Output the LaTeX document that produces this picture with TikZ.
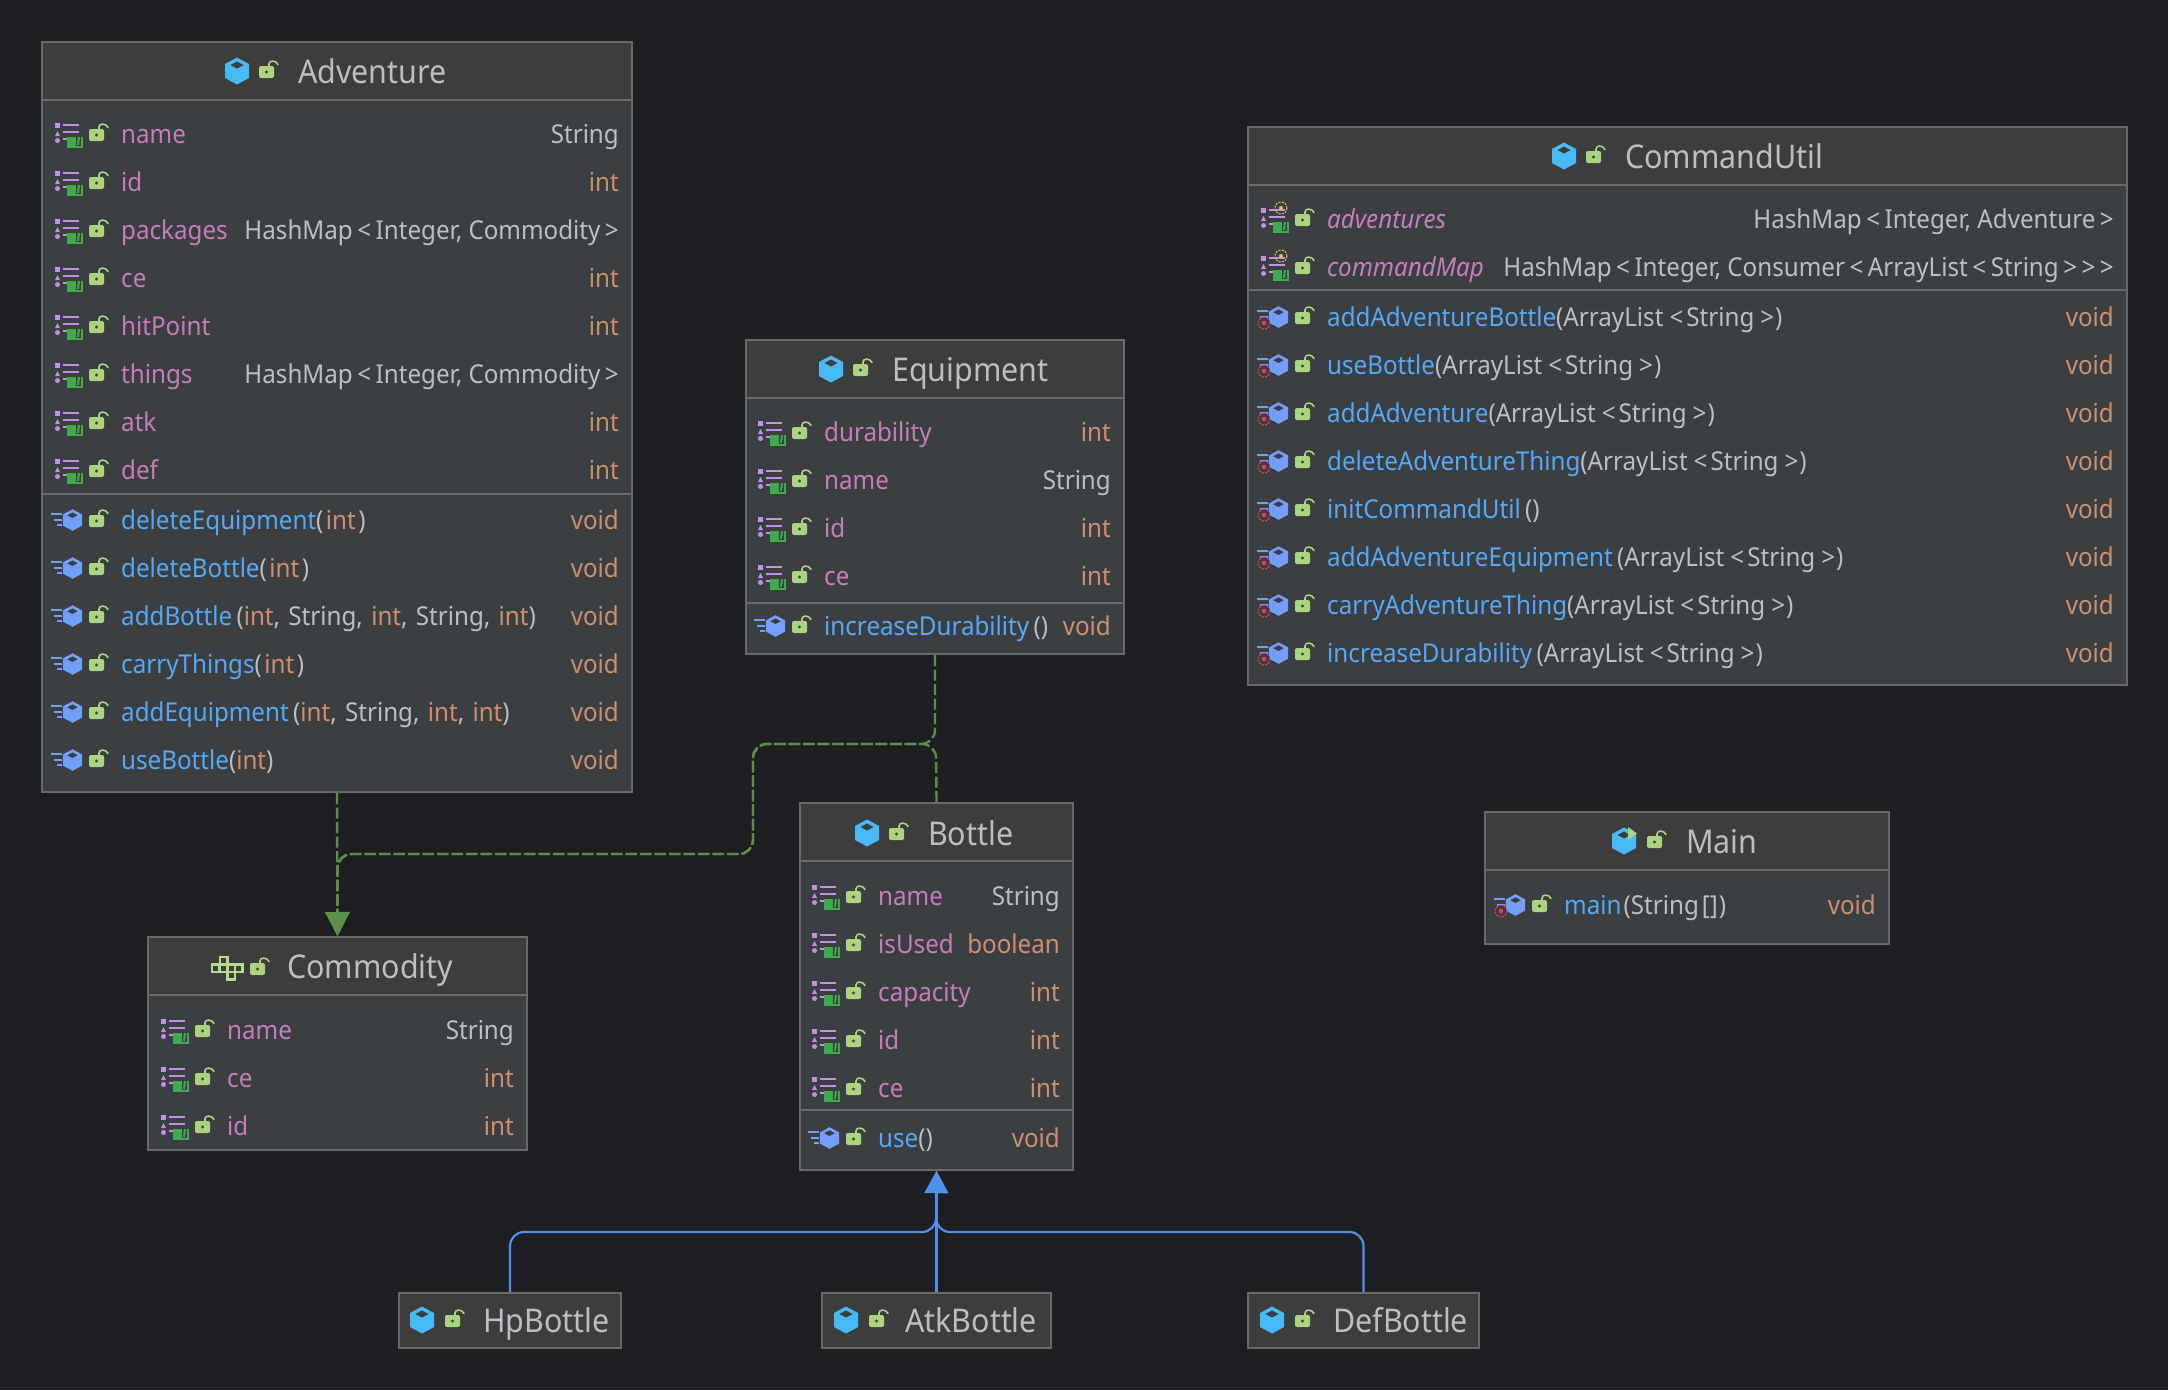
\documentclass[tikz,border=0pt]{standalone}
\usepackage{fontspec}
\setmainfont[FakeStretch=0.93]{Noto Sans}
\usetikzlibrary{arrows.meta}
\definecolor{bgc}{HTML}{1E1F22}
\definecolor{bodyc}{HTML}{3C3F41}
\definecolor{hdrc}{HTML}{3D3D3D}
\definecolor{edgec}{HTML}{686868}
\definecolor{pinkc}{HTML}{C77DBB}
\definecolor{bluec}{HTML}{56A8F5}
\definecolor{orangec}{HTML}{CF8E6D}
\definecolor{grayc}{HTML}{BCBEC4}
\definecolor{lockc}{HTML}{AAD47E}
\definecolor{cubec}{HTML}{45BAF7}
\definecolor{mcubec}{HTML}{719EFF}
\definecolor{purpc}{HTML}{C190E8}
\definecolor{bookc}{HTML}{3DAA4C}
\definecolor{staticc}{HTML}{F0B850}
\definecolor{redc}{HTML}{F0395C}
\definecolor{ifacec}{HTML}{B7DC8A}
\definecolor{depc}{HTML}{5A8F46}
\definecolor{inhc}{HTML}{4F90EA}
\newcommand\Nm[1]{\textcolor{pinkc}{#1}}
\newcommand\Mt[1]{\textcolor{bluec}{#1}}
\newcommand\Ty[1]{\textcolor{orangec}{#1}}
\newcommand\Gr[1]{\textcolor{grayc}{#1}}
\newcommand\Lt{\kern4.5pt<\kern4.5pt}
\newcommand\Gt{\kern4.5pt>}
\newcount\lblno
\newcommand\txtnode[3]{\global\advance\lblno by 1 \node[#1] (lbl\the\lblno) at #2 {#3};}
\tikzset{
  x=1pt,y=-1pt,
  rowtext/.style={inner sep=0pt,anchor=base west,font=\fontsize{26}{30}\selectfont},
  typetext/.style={inner sep=0pt,anchor=base east,font=\fontsize{26}{30}\selectfont},
  titletext/.style={inner sep=0pt,anchor=base west,text=grayc,font=\fontsize{32.7}{36}\selectfont},
  classbody/.style={draw=edgec,fill=bodyc,line width=2pt,inner sep=0pt,rectangle},
  sepline/.style={draw=edgec,line width=2.4pt},
  depline/.style={draw=depc,line width=2.4pt,dash pattern=on 11pt off 3.5pt,rounded corners=14pt,
     -{Triangle[length=24pt,width=24pt,fill=depc]}},
  inhline/.style={draw=inhc,line width=2.2pt,rounded corners=14pt,
     -{Triangle[length=22pt,width=23pt,fill=inhc]}}
}
% lock icon: left x, centre y
\newcommand\lockicon[2]{\begin{scope}[shift={(#1,#2)}]
  \draw[lockc,line width=1.6pt,line cap=round] (10,-5) -- (10,-7) .. controls (10,-11) and (17,-11) .. (19,-6.5);
  \fill[lockc,rounded corners=2pt] (0,-5) rectangle (15,7);
  \fill[bodyc] (7.5,1) circle[radius=1.7];
\end{scope}}
% class cube: centre x, centre y, colour, scale
\newcommand\cubeicon[4]{\begin{scope}[shift={(#1,#2)},scale=#4]
  \fill[#3] (0,-13.5) -- (12,-7) -- (12,7) -- (0,13.5) -- (-12,7) -- (-12,-7) -- cycle;
  \fill[hdrc] (0,-9.5) -- (6.5,-6) -- (0,-2.5) -- (-6.5,-6) -- cycle;
\end{scope}}
% field icon: origin = left edge, row centre
\newcommand\fieldicon[2]{\begin{scope}[shift={(#1,{#2-11})}]
  \fill[purpc] (0,0) rectangle (5,5);
  \fill[purpc] (8,1) rectangle (24,3);
  \fill[purpc] (8,8) rectangle (24,10);
  \fill[purpc] (8,15) rectangle (13,17);
  \fill[purpc] (2.5,8) -- (5,13) -- (0,13) -- cycle;
  \fill[purpc] (2.5,17.5) circle[radius=2.5];
  \fill[bookc] (12,14) rectangle (21,24.5);
  \draw[bookc,line width=1.2pt] (20,24) -- (27,24) -- (27,14);
  \draw[bookc,line width=2pt] (23,22) -- (24,14);
\end{scope}}
\newcommand\staticdot[2]{\begin{scope}[shift={(#1,{#2-11})}]
  \draw[staticc,line width=1pt,dash pattern=on 2pt off 1.2pt] (20,0) circle[radius=6];
  \fill[staticc] (20,0) circle[radius=2];
\end{scope}}
\newcommand\methodbars[2]{\begin{scope}[shift={(#1,#2)}]
  \fill[mcubec] (0,-7) rectangle (11,-5);
  \fill[mcubec] (3,-1.5) rectangle (11,0.5);
  \fill[mcubec] (6,4) rectangle (11,6);
\end{scope}}
\newcommand\reddot[2]{\begin{scope}[shift={(#1,#2)}]
  \draw[redc,line width=1pt,dash pattern=on 2pt off 1.2pt,fill=bodyc] (6,6) circle[radius=6];
  \fill[redc] (6,6) circle[radius=2.2];
\end{scope}}
% rows: left, right, centre y, text, type
\newcommand\frow[5]{\fieldicon{#1+13}{#3}\lockicon{#1+47}{#3}%
  \txtnode{rowtext}{({#1+79},{#3+9})}{\Nm{#4}}%
  \txtnode{typetext}{({#2-13},{#3+9})}{#5}}
\newcommand\sfrow[5]{\fieldicon{#1+13}{#3}\staticdot{#1+13}{#3}\lockicon{#1+47}{#3}%
  \txtnode{rowtext}{({#1+79},{#3+9})}{\Nm{\itshape #4}}%
  \txtnode{typetext}{({#2-13},{#3+9})}{#5}}
\newcommand\mrow[5]{\methodbars{#1+9}{#3}\cubeicon{#1+30.5}{#3}{mcubec}{0.8}\lockicon{#1+47}{#3}%
  \txtnode{rowtext}{({#1+79},{#3+9})}{#4}%
  \txtnode{typetext}{({#2-13},{#3+9})}{#5}}
\newcommand\smrow[5]{\methodbars{#1+9}{#3}\cubeicon{#1+30.5}{#3}{mcubec}{0.8}\reddot{#1+10}{#3}\lockicon{#1+47}{#3}%
  \txtnode{rowtext}{({#1+79},{#3+9})}{#4}%
  \txtnode{typetext}{({#2-13},{#3+9})}{#5}}
% name, L, T, R, B, header bottom
\newcommand\classbox[6]{\node[classbody,minimum width={(#4-#2)*1pt},minimum height={(#5-#3)*1pt}] (#1) at ({(#2+#4)/2},{(#3+#5)/2}) {};
  \fill[hdrc] ({#2+1},{#3+1}) rectangle ({#4-1},#6);}
\newcommand\classhead[6]{% cube x, lock x, title x, mid y, title, colour
  \cubeicon{#1}{#4}{#6}{1}\lockicon{#2}{#4}\txtnode{titletext}{(#3,{#4+12})}{#5}}
\newcommand\hsep[3]{\draw[sepline] (#1,#3) -- (#2,#3);}
\newcommand\intT{\Ty{int}}
\newcommand\voidT{\Ty{void}}
\newcommand\strT{\Gr{String}}
\newcommand\Pint{\Gr{(}\kern2.5pt\intT\kern2.5pt\Gr{)}}
\newcommand\Cm{\Gr{, }\kern2pt}
\newcommand\alist{\Gr{(ArrayList\kern6pt<\kern3pt String\kern6pt>\kern1pt)}}
\begin{document}
\begin{tikzpicture}
\useasboundingbox (0,0) rectangle (2168,1390);
\fill[bgc] (0,0) rectangle (2168,1390);

% ---------- boxes ----------
\classbox{adventure}{42}{42}{632}{792}{100}
\classbox{commodity}{148}{937}{527}{1150}{995}
\classbox{equipment}{746}{340}{1124}{654}{398}
\classbox{bottle}{800}{803}{1073}{1170}{861}
\classbox{commandutil}{1248}{127}{2127}{685}{185}
\classbox{mainbox}{1485}{812}{1889}{944}{870}
\classbox{hpbottle}{399}{1293}{621}{1348}{1347}
\classbox{atkbottle}{822}{1293}{1051}{1348}{1347}
\classbox{defbottle}{1248}{1293}{1479}{1348}{1347}

% ---------- connectors ----------
\coordinate (eqA) at (935,744);
\coordinate (eqB) at (753,744);
\coordinate (eqC) at (753,854);
\coordinate (eqD) at (337.5,854);
\coordinate (btA) at (936,744);
\draw[depline] (adventure.south) -- (commodity.north);
\draw[depline] (equipment.south) -- (eqA) -- (eqB) -- (eqC) -- (eqD) -- (commodity.north);
\draw[depline] (bottle.north) -- (btA) -- (eqB) -- (eqC) -- (eqD) -- (commodity.north);
\coordinate (hpA) at (510,1232);
\coordinate (hpB) at (936,1232);
\coordinate (dfA) at (1363.5,1232);
\draw[inhline] (hpbottle.north) -- (hpA) -- (hpB) -- (bottle.south);
\draw[inhline] (defbottle.north) -- (dfA) -- (hpB) -- (bottle.south);
\draw[inhline] (atkbottle.north) -- (bottle.south);

% ---------- Adventure ----------
\hsep{42}{632}{100}
\classhead{237}{259}{298}{71}{Adventure}{cubec}
\frow{42}{632}{134}{name}{\strT}
\frow{42}{632}{182}{id}{\intT}
\frow{42}{632}{230}{packages}{\Gr{HashMap\Lt Integer, Commodity\Gt}}
\frow{42}{632}{278}{ce}{\intT}
\frow{42}{632}{326}{hitPoint}{\intT}
\frow{42}{632}{374}{things}{\Gr{HashMap\Lt Integer, Commodity\Gt}}
\frow{42}{632}{422}{atk}{\intT}
\frow{42}{632}{470}{def}{\intT}
\hsep{42}{632}{494}
\mrow{42}{632}{520}{\Mt{deleteEquipment}\Pint}{\voidT}
\mrow{42}{632}{568}{\Mt{deleteBottle}\Pint}{\voidT}
\mrow{42}{632}{616}{\Mt{addBottle}\,\Gr{(}\intT\Cm\Gr{String}\Cm\intT\Cm\Gr{String}\Cm\intT\Gr{)}}{\voidT}
\mrow{42}{632}{664}{\Mt{carryThings}\Pint}{\voidT}
\mrow{42}{632}{712}{\Mt{addEquipment}\,\Gr{(}\intT\Cm\Gr{String}\Cm\intT\Cm\intT\Gr{)}}{\voidT}
\mrow{42}{632}{760}{\Mt{useBottle}\Gr{(}\intT\Gr{)}}{\voidT}

% ---------- Commodity ----------
\hsep{148}{527}{995}
\foreach \cx/\cy in {220/957,212/964.5,220/964.5,227.5/964.5,235/964.5,227.5/972}{
  \draw[ifacec,fill=hdrc,line width=2.4pt] (\cx,\cy) rectangle ++(7.5,7.5);
}
\lockicon{250}{968}
\txtnode{titletext}{(287,978)}{Commodity}
\frow{148}{527}{1030}{name}{\strT}
\frow{148}{527}{1078}{ce}{\intT}
\frow{148}{527}{1126}{id}{\intT}

% ---------- Equipment ----------
\hsep{746}{1124}{398}
\classhead{831}{853}{892}{369}{Equipment}{cubec}
\frow{745}{1124}{432}{durability}{\intT}
\frow{745}{1124}{480}{name}{\strT}
\frow{745}{1124}{528}{id}{\intT}
\frow{745}{1124}{576}{ce}{\intT}
\hsep{746}{1124}{603}
\mrow{745}{1124}{626}{\Mt{increaseDurability}\,\Gr{\bfseries()}}{\voidT}

% ---------- Bottle ----------
\hsep{800}{1073}{861}
\classhead{867}{889}{928}{833}{Bottle}{cubec}
\frow{799}{1073}{896}{name}{\strT}
\frow{799}{1073}{944}{isUsed}{\Ty{boolean}}
\frow{799}{1073}{992}{capacity}{\intT}
\frow{799}{1073}{1040}{id}{\intT}
\frow{799}{1073}{1088}{ce}{\intT}
\hsep{800}{1073}{1110}
\mrow{799}{1073}{1138}{\Mt{use}\Gr{\bfseries()}}{\voidT}

% ---------- CommandUtil ----------
\hsep{1248}{2127}{185}
\classhead{1564}{1586}{1625}{156}{CommandUtil}{cubec}
\sfrow{1248}{2127}{219}{adventures}{\Gr{HashMap\Lt Integer, Adventure\Gt}}
\sfrow{1248}{2127}{267}{commandMap}{\Gr{HashMap\Lt Integer, Consumer\Lt ArrayList\Lt String\Gt\Gt\Gt}}
\hsep{1248}{2127}{290}
\smrow{1248}{2127}{317}{\Mt{addAdventureBottle}\alist}{\voidT}
\smrow{1248}{2127}{365}{\Mt{useBottle}\alist}{\voidT}
\smrow{1248}{2127}{413}{\Mt{addAdventure}\alist}{\voidT}
\smrow{1248}{2127}{461}{\Mt{deleteAdventureThing}\alist}{\voidT}
\smrow{1248}{2127}{509}{\Mt{initCommandUtil}\,\Gr{\bfseries()}}{\voidT}
\smrow{1248}{2127}{557}{\Mt{addAdventureEquipment}\,\alist}{\voidT}
\smrow{1248}{2127}{605}{\Mt{carryAdventureThing}\alist}{\voidT}
\smrow{1248}{2127}{653}{\Mt{increaseDurability}\,\alist}{\voidT}

% ---------- Main ----------
\hsep{1485}{1889}{870}
\classhead{1624}{1647}{1686}{841}{Main}{cubec}
\fill[lockc] (1628,827) -- (1637,833.5) -- (1628,840) -- cycle;
\smrow{1485}{1889}{905}{\Mt{main}\kern2pt\Gr{(String\kern3pt{\bfseries[]}\kern1pt)}}{\voidT}

% ---------- subclasses ----------
\classhead{422}{445}{483}{1320}{HpBottle}{cubec}
\classhead{846}{869}{905}{1320}{AtkBottle}{cubec}
\classhead{1272}{1295}{1333}{1320}{DefBottle}{cubec}
\end{tikzpicture}
\end{document}
